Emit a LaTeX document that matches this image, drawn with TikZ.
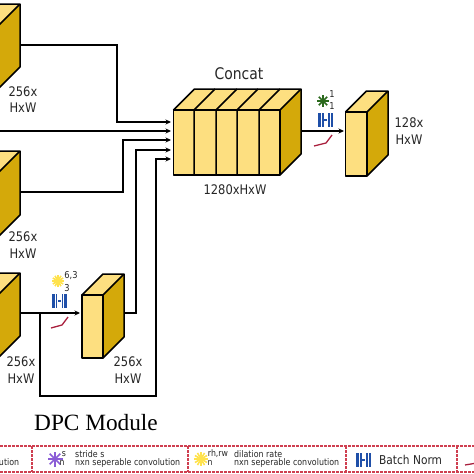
\documentclass[tikz,border=0pt]{standalone}
\usepackage{fontspec}
\setmainfont[FakeStretch=0.87]{DejaVu Sans}
\newfontfamily\titlefont{Liberation Serif}
\usetikzlibrary{arrows.meta}

\definecolor{cubefront}{HTML}{FDDF80}
\definecolor{cubeside}{HTML}{D4A90A}
\definecolor{bnblue}{HTML}{1F4FA8}
\definecolor{relured}{HTML}{A81E3C}
\definecolor{boxred}{HTML}{CF3F50}
\definecolor{sunyellow}{HTML}{FFE24D}
\definecolor{starpurple}{HTML}{8A5CD6}
\definecolor{stargreen}{HTML}{2C6A1E}

\tikzset{
  wire/.style={line width=1.5pt},
  wirearrow/.style={wire,-{Stealth[length=5.5pt,width=5pt]}},
  size/.style={font=\fontsize{13.2}{16.5}\selectfont,align=center,text=black!85,inner sep=0pt},
  small/.style={font=\fontsize{9.5}{10}\selectfont,text=black!85,inner sep=0pt},
  tiny/.style={font=\fontsize{9}{10}\selectfont,text=black!85,inner sep=0pt},
  legend/.style={font=\fontsize{9.1}{10}\selectfont,text=black!85,inner sep=0pt,anchor=west},
  legendbox/.style={boxred,line width=1.3pt,dash pattern=on 2.5pt off 1.5pt}
}

% Cuboid: name, front left x, front right x, top y, bottom y
\newcommand{\cuboid}[5]{
  \fill[cubefront] (#2,#4) rectangle (#3,#5);
  \fill[cubefront] (#2,#4) -- ++(21,-21) -- ++(#3-#2,0) -- (#3,#4) -- cycle;
  \fill[cubeside] (#3,#4) -- ++(21,-21) -- (#3+21,#5-21) -- (#3,#5) -- cycle;
  \draw[wire,line join=round] (#2,#4) rectangle (#3,#5);
  \draw[wire,line join=round] (#2,#4) -- ++(21,-21) -- (#3+21,#4-21) -- (#3,#4);
  \draw[wire,line join=round] (#3+21,#4-21) -- (#3+21,#5-21) -- (#3,#5);
  \coordinate (#1) at (#3+21,#5-21);
}

% Batch norm icon at centre
\newcommand{\bnicon}[1]{
  \begin{scope}[shift={(#1)}]
    \fill[bnblue] (-7.5,-7) rectangle (-4.5,7);
    \fill[bnblue] (-3.5,-7) rectangle (-2,7);
    \fill[bnblue] (-1.2,-1) rectangle (1.8,1);
    \fill[bnblue] (2.5,-7) rectangle (4,7);
    \fill[bnblue] (5,-7) rectangle (7.5,7);
  \end{scope}
}

% Star icon: centre, colour, number of rays, radius
\newcommand{\staricon}[4]{
  \foreach \a in {1,...,#3}
    \draw[#2,line width=1.6pt] (#1) -- ++({\a*360/#3}:#4);
  \fill[#2] (#1) circle (#4*0.3);
}

\begin{document}
\begin{tikzpicture}[x=1pt,y=-1pt]

\useasboundingbox (0,0) rectangle (474,474);
\clip (0,0) rectangle (474,474);

% Input cuboids
\cuboid{C1}{-21}{-1}{25}{88}
\cuboid{C2}{-21}{-1}{172}{236}
\cuboid{C3}{-21}{-1}{294}{357}

% Middle cuboid
\cuboid{C4}{82}{103}{295}{358}

% Concat block
\cuboid{Cc}{173.5}{280}{110}{175}
\foreach \x in {194,216,237,259}
  \draw[wire] (\x,110) -- (\x,175) (\x,110) -- ++(21,-21);

% Output cuboid
\cuboid{Co}{345.5}{367}{112}{176}

% Connector points
\coordinate (a1) at (20,45);
\coordinate (b1) at (117,122);
\coordinate (e1) at (171,122);
\coordinate (a2) at (0,131);
\coordinate (e2) at (171,131);
\coordinate (a3) at (20,192);
\coordinate (b3) at (123,140);
\coordinate (e3) at (171,140);
\coordinate (a4) at (125,313);
\coordinate (b4) at (136,150);
\coordinate (e4) at (171,150);
\coordinate (a5) at (40,313);
\coordinate (m5) at (40,396);
\coordinate (b5) at (156,396);
\coordinate (c5) at (156,159);
\coordinate (e5) at (171,159);
\coordinate (s3) at (20,313);
\coordinate (e6) at (80,313);
\coordinate (s7) at (301,131);
\coordinate (e7) at (344,131);

% Connectors
\draw[wirearrow] (a1) -| (b1) -- (e1);
\draw[wirearrow] (a2) -- (e2);
\draw[wirearrow] (a3) -| (b3) -- (e3);
\draw[wirearrow] (a4) -| (b4) -- (e4);
\draw[wirearrow] (a5) -- (m5) -- (b5) -- (c5) -- (e5);
\draw[wirearrow] (s3) -- (e6);
\draw[wirearrow] (s7) -- (e7);

% Size labels
\node[size] (l1) at (23,99.5) {256x\\HxW};
\node[size] (l2) at (23,245) {256x\\HxW};
\node[size] (l3) at (21,370) {256x\\HxW};
\node[size] (l4) at (128,370) {256x\\HxW};
\node[size] (l5) at (409,131) {128x\\HxW};
\node[size,font=\fontsize{16}{18}\selectfont] (l6) at (239,74) {Concat};
\node[size] (l7) at (235,190) {1280xHxW};
\node[inner sep=0pt,font=\titlefont\fontsize{23.3}{24}\selectfont] (title) at (96,423) {DPC Module};

% Icons on the arrows
\staricon{323,101}{stargreen}{8}{6}
\node[small] (s1) at (332,94) {1};
\node[small] (s2) at (332,106) {1};
\bnicon{325.5,120}
\draw[relured,line width=1.3pt] (314,146) -- (326,143) -- (332,135);

\staricon{58,281}{sunyellow}{12}{6}
\node[small] (s3t) at (71,276) {6,3};
\node[small] (s4) at (67,288) {3};
\bnicon{59,301}
\draw[relured,line width=1.3pt] (51,328) -- (62,325) -- (68,317);

% Legend
\draw[legendbox] (0,446) -- (474,446);
\draw[legendbox] (0,472) -- (474,472);
\foreach \x in {32,188,346,457}
  \draw[legendbox] (\x,446) -- (\x,472);

\node[legend] (t0) at (-86,463) {nxn seperable convolution};

\staricon{55,459}{starpurple}{8}{7.5}
\node[tiny] (t1a) at (64,454) {s};
\node[tiny] (t1b) at (62,463) {n};
\node[legend] (t1) at (75,454) {stride s};
\node[legend] (t2) at (75,463) {nxn seperable convolution};

\staricon{201,459}{sunyellow}{12}{7}
\node[tiny] (t3a) at (218,454) {rh,rw};
\node[tiny] (t3b) at (210,463) {n};
\node[legend] (t3) at (234,454) {dilation rate};
\node[legend] (t4) at (234,463) {nxn seperable convolution};

\bnicon{363.5,459.5}
\node[legend,font=\fontsize{12.2}{14}\selectfont] (t5) at (379,460) {Batch Norm};

\draw[relured,line width=1.3pt] (465,465) -- (474,463.5);

\end{tikzpicture}
\end{document}
